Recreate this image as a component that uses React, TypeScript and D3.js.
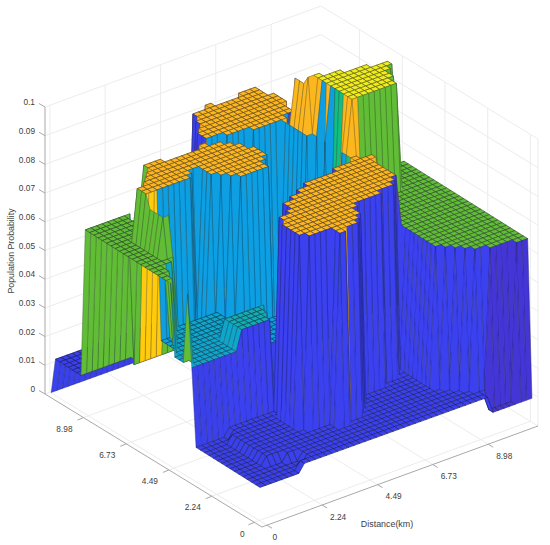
import React from "react";
import * as d3 from "d3";

const zTicks = [0, 0.01, 0.02, 0.03, 0.04, 0.05, 0.06, 0.07, 0.08, 0.09, 0.1];
const kmTicks = [0, 2.24, 4.49, 6.73, 8.98];

// level key -> height
const levelZ: Record<string, number> = {
  a: -0.001, b: 0.0084, c: 0.0115, d: 0.0143, L: 0.0139, B: 0.0296, A: 0.0383, T: 0.0453,
  N: 0.0523, G: 0.0631, _: 0.0767, O: 0.0812, K: 0.0812, Q: 0.0812, R: 0.0812,
  V: 0.1, Y: 0.1, H: 0.0899, P: 0.0969,
};
const levelColor: Record<string, string> = {
  a: "#3b3fe0", b: "#4436d6", c: "#3b41ea", d: "#3b41ee", L: "#0d9fe2", B: "#0d9fe2", A: "#0fa6ca", T: "#14adb2",
  N: "#10bf85", G: "#62bd36", _: "none", O: "#fdb71e", K: "#ffcb0c", Q: "#3b41ee", R: "#0d9fe2",
  V: "#62bd36", Y: "#f0ee1a", H: "#62bd36", P: "#0d9fe2",
};

// one row per distance step along the left axis; token = level + last column it reaches
const heightRows = [
  "c7 d41 b",
  "c7 d41 b46 G",
  "c9 d42 G",
  "c9 d40 G",
  "c7 d39 G",
  "c4 d38 G",
  "c4 d18 O20 d37 G",
  "c4 d18 O22 Q23 d36 G",
  "c4 d14 O23 Q24 d36 G",
  "c4 d13 O24 Q25 d36 G",
  "c4 d13 O24 Q25 d36 G",
  "c4 d13 O25 Q26 d36 G",
  "c4 d13 O30 Q31 d36 G",
  "c4 d13 O33 Q34 d36 G",
  "c5 d14 O34 Q35 d36 G",
  "c5 d14 Q16 O36 G",
  "A8 T14 c16 Q17 O36 G",
  "G0 A8 T14 c17 O36 G",
  "A8 T15 c17 Q19 O36 G",
  "A8 T15 c19 Q21 O36 G",
  "A8 T16 c21 Q23 O36 G",
  "G0 A13 B23 Q29 O37 G",
  "G1 A13 B29 O37 G",
  "G1 A13 B30 N33 O35 G",
  "G2 A13 B33 O34 Y42 V43 G",
  "G2 A13 B33 O34 Y42 V43 G",
  "G4 A13 B33 N34 Y43 V44 G",
  "G5 A13 B33 N34 Y43 V44 G",
  "G3 _5 B17 O22 R23 L34 Y44 V45 G",
  "G3 _5 B16 O22 R23 L33 O34 Y45 V46 G",
  "G3 _5 B15 O23 R24 L34 Y45 V46 G",
  "G3 _5 B14 O24 R25 L33 O34 Y42 V43 H48 c",
  "G3 O11 R12 B14 O24 R25 L32 O34 Y39 c",
  "G3 O12 R13 B14 O24 R25 L32 O33 Y36 c",
  "G3 O24 R25 L32 O33 P34 c",
  "G5 O23 R24 L32 O33 P34 c",
  "G6 O23 R24 L32 O33 P34 c",
  "G7 O22 R23 L32 O33 c",
  "G8 O21 R22 B27 O33 R34 c",
  "G8 K12 G15 c18 O20 B23 O35 R36 c",
  "G7 c20 O36 c",
  "G8 c20 O36 c",
  "c20 O37 c",
  "c21 O37 c",
  "c22 O37 c",
  "c22 O37 c",
  "c23 O36 c",
  "c23 O36 c",
  "c26 O28 c32 O36 c",
  "a",
];

const N = 50;
const grid: string[][] = heightRows.map((row) => {
  const out: string[] = [];
  row.split(" ").forEach((tok) => {
    const last = tok.length > 1 ? +tok.slice(1) : N - 1;
    while (out.length <= last) out.push(tok[0]);
  });
  return out;
});

const kmOfIndex = d3.scaleLinear().domain([0, N - 1]).range([0, 11]);

// surface projection
const surfX = (u: number, v: number) => 260 + u * 24.72 - v * 18.98;
const surfY = (u: number, v: number, z: number) => 520.4 - u * 8.91 - v * 11.89 - z * 2870;

// axes box: front corner, ends of the two floor axes
const aU = d3.scaleLinear().domain([-0.2, 11]).range([0, 1]);
const aV = d3.scaleLinear().domain([-0.4, 11]).range([0, 1]);
const zPx = d3.scaleLinear().domain([0, 0.1]).range([0, 287]);
const box = (u: number, v: number, z: number): [number, number] => {
  const a = aU(u), b = aV(v);
  return [262 + a * 276 - b * 217, 527 - a * 101 - b * 133 - zPx(z)];
};

const line = d3.line();
const font = "Liberation Sans, Arial, sans-serif";
const gridColor = "#ececec";
const axisColor = "#a8a8a8";
const textColor = "#404040";

function Surface() {
  const cells: React.ReactNode[] = [];
  for (let j = N - 2; j >= 0; j--) {
    for (let i = N - 2; i >= 0; i--) {
      const key = grid[j][i];
      if (key === "_") continue;
      const vertexKeys = [grid[j][i], grid[j][i + 1], grid[j + 1][i + 1], grid[j + 1][i]];
      const zs = vertexKeys.map((k) => levelZ[k]);
      const steep = (d3.max(zs)! - d3.min(zs)!) > 0.006;
      const corners: [number, number][] = [
        [i, j], [i + 1, j], [i + 1, j + 1], [i, j + 1],
      ].map(([ci, cj]) => {
        const u = kmOfIndex(ci), v = kmOfIndex(cj);
        return [surfX(u, v), surfY(u, v, levelZ[grid[cj][ci]])];
      });
      const fill = levelColor[key];
      cells.push(
        <g key={`${i}-${j}`}>
          <path d={line(corners) + "Z"} fill={fill} stroke={fill} strokeWidth={0.3} />
          <path d={line(corners) + "Z"} fill="none" stroke="#14142a" strokeWidth={steep ? 0.4 : 0.5} strokeOpacity={steep ? 0.6 : 0.85} strokeLinejoin="round" />
        </g>
      );
    }
  }
  return <g>{cells}</g>;
}

function Frame() {
  const l = (a: [number, number], b: [number, number], c: string, w = 1, k?: string) => (
    <line key={k} x1={a[0]} y1={a[1]} x2={b[0]} y2={b[1]} stroke={c} strokeWidth={w} />
  );
  const U1 = 11, V1 = 11, U0 = -0.2, V0 = -0.4;
  return (
    <g>
      {kmTicks.map((t) => (
        <g key={t}>
          {l(box(t, V0, 0), box(t, V1, 0), gridColor, 1, "a")}
          {l(box(U0, t, 0), box(U1, t, 0), gridColor, 1, "b")}
          {l(box(t, V1, 0), box(t, V1, 0.1), gridColor, 1, "c")}
          {l(box(U1, t, 0), box(U1, t, 0.1), gridColor, 1, "d")}
        </g>
      ))}
      {zTicks.map((t) => (
        <g key={t}>
          {l(box(U0, V1, t), box(U1, V1, t), gridColor, 1, "e")}
          {l(box(U1, V1, t), box(U1, V0, t), gridColor, 1, "f")}
        </g>
      ))}
      {l(box(U1, V0, 0), box(U1, V0, 0.1), gridColor, 1, "g")}
      {l(box(U0, V1, 0), box(U0, V1, 0.1), axisColor, 1, "z")}
      {l(box(U0, V0, 0), box(U1, V0, 0), axisColor, 1, "x")}
      {l(box(U0, V0, 0), box(U0, V1, 0), axisColor, 1, "y")}
      {zTicks.map((t) => {
        const [x, y] = box(U0, V1, t);
        return (
          <g key={t}>
            {l([x, y], [x - 6, y - 3.5], axisColor, 1, "t")}
            <text x={35} y={y - 4} textAnchor="end" dominantBaseline="middle" fontFamily={font} fontSize={8.3} fill={textColor}>{t}</text>
          </g>
        );
      })}
      {kmTicks.map((t) => {
        const [x, y] = box(t, V0, 0);
        const [x2, y2] = box(U0, t, 0);
        const rightDx = t === 0 ? 8 : 16;
        const leftDx = t === 0 ? 12 : 19;
        return (
          <g key={t}>
            {l([x, y], [x + 5, y + 3], axisColor, 1, "t1")}
            {l([x2, y2], [x2 - 6, y2 + 2.5], axisColor, 1, "t2")}
            <text x={x + rightDx} y={y + 12.5} textAnchor="middle" dominantBaseline="middle" fontFamily={font} fontSize={8.3} fill={textColor}>{t}</text>
            <text x={x2 - leftDx} y={y2 + 12} textAnchor="middle" dominantBaseline="middle" fontFamily={font} fontSize={8.3} fill={textColor}>{t}</text>
          </g>
        );
      })}
      <text x={387} y={524.5} textAnchor="middle" dominantBaseline="middle" fontFamily={font} fontSize={8.9} fill={textColor}>Distance(km)</text>
      <text transform="translate(12,251) rotate(-90)" textAnchor="middle" dominantBaseline="middle" fontFamily={font} fontSize={8.8} fill={textColor}>Population Probability</text>
    </g>
  );
}

export default function App() {
  return (
    <svg width={550} height={545} style={{ position: "absolute", left: 0, top: 0, background: "#fff" }}>
      <Frame />
      <Surface />
    </svg>
  );
}
